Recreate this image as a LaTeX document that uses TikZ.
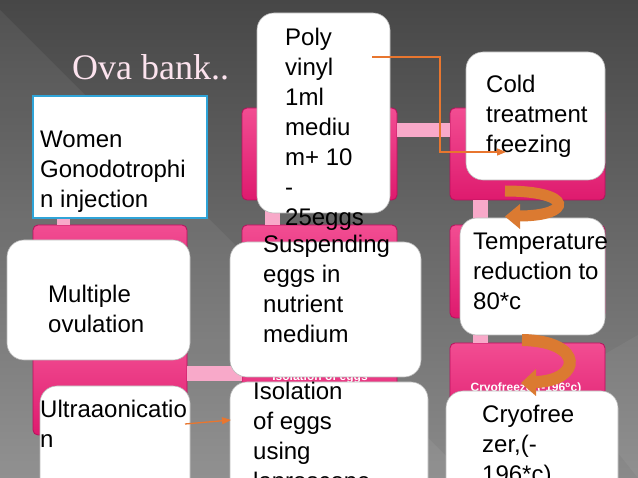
\documentclass[tikz,border=0pt]{standalone}
\usepackage{fontspec}
\setmainfont{Liberation Sans}
\newfontfamily\titlefont{Liberation Serif}
\usetikzlibrary{arrows.meta}
\definecolor{bgtop}{HTML}{474747}
\definecolor{bgbot}{HTML}{8A8A8A}
\definecolor{pinkA}{HTML}{F24D92}
\definecolor{pinkB}{HTML}{DE1A6E}
\definecolor{pinkE}{HTML}{B80F5C}
\definecolor{pinkL}{HTML}{F8A9C9}
\definecolor{orA}{HTML}{E8762F}
\definecolor{orB}{HTML}{DB7A31}
\definecolor{blueB}{HTML}{2FA4D8}
\definecolor{titlec}{HTML}{FCE3EE}
\newcommand{\boxtext}[1]{\parbox[t]{220pt}{\raggedright\fontsize{24}{30}\selectfont #1}}
\begin{document}
\begin{tikzpicture}[x=1pt,y=-1pt,
  pinkbox/.style={draw=pinkE, line width=0.8pt, rounded corners=5pt, top color=pinkA, bottom color=pinkB},
  linkbar/.style={fill=pinkL, draw=none},
  whitebox/.style={draw=gray!55, line width=0.6pt, fill=white, rounded corners=17pt},
  bluebox/.style={draw=blueB, line width=1.6pt, fill=white},
  boxlabel/.style={anchor=base west, inner sep=0pt, text=black},
  pinklabel/.style={anchor=base, inner sep=0pt, text=white, font=\fontsize{12}{14}\selectfont\bfseries},
  thinarrow/.style={draw=orA, line width=1.3pt, -{Triangle[length=9pt,width=7pt]}},
  bentband/.style={draw=orB, line width=11pt},
  benthead/.style={fill=orB, draw=none}
]
\clip (0,0) rectangle (638,478);
% background
\shade[top color=bgtop, bottom color=bgbot] (0,0) rectangle (638,478);
\fill[white, opacity=0.06] (0,10) -- (468,478) -- (0,478) -- cycle;
\fill[white, opacity=0.05] (638,335) -- (560,380) -- (638,478) -- cycle;

% title
\node[anchor=base west, inner sep=0pt, text=titlec, font=\titlefont\fontsize{36}{40}\selectfont] (title) at (72,80) {Ova bank..};

% pink process boxes
\path[pinkbox] (33,108) rectangle (187,200) coordinate (p11);
\path[pinkbox] (33,225) rectangle (187,318);
\path[pinkbox] (33,343) rectangle (187,435);
\path[pinkbox] (242,108) rectangle (397,200);
\path[pinkbox] (242,225) rectangle (397,318);
\path[pinkbox] (242,343) rectangle (397,435);
\path[pinkbox] (450,108) rectangle (605,200);
\path[pinkbox] (450,225) rectangle (605,318);
\path[pinkbox] (450,343) rectangle (605,435);
% link bars
\path[linkbar] (57,200) rectangle (70,225);
\path[linkbar] (187,366) rectangle (242,381);
\path[linkbar] (265,200) rectangle (280,225);
\path[linkbar] (397,123) rectangle (450,137);
\path[linkbar] (473,200) rectangle (488,225);
\path[linkbar] (473,318) rectangle (488,343);
% pink box labels
\node[pinklabel] (iso2) at (320,381) {Isolation of eggs};
\node[pinklabel] (cryo2) at (526,392) {Cryofreezer(-196\textsuperscript{o}c)};

% white boxes
\path[bluebox] (33,96) rectangle (207,218);
\node[boxlabel] (women) at (40,148) {\boxtext{Women\\Gonodotrophi\\n injection}};

\path[whitebox] (257,13) rectangle (390,213);
\node[boxlabel] (poly) at (285,46) {\boxtext{Poly\\vinyl\\1ml\\mediu\\m+ 10\\-\\25eggs}};

\path[whitebox] (466,52) rectangle (605,180);
\node[boxlabel] (cold) at (486,93) {\boxtext{Cold\\treatment\\freezing}};

\path[whitebox] (7,240) rectangle (190,360);
\node[boxlabel] (multi) at (48,303) {\boxtext{Multiple\\ovulation}};

\path[whitebox] (230,242) rectangle (421,377);
\node[boxlabel] (susp) at (263,253) {\boxtext{Suspending\\eggs in\\nutrient\\medium}};

\path[whitebox] (460,218) rectangle (605,335);
\node[boxlabel] (temp) at (473,250) {\boxtext{Temperature\\reduction to\\80*c}};

\path[whitebox] (40,386) rectangle (190,495);
\node[boxlabel] (ultra) at (40,418) {\boxtext{Ultraaonicatio\\n}};

\path[whitebox] (230,382) rectangle (428,495);
\node[boxlabel] (isol) at (253,400) {\boxtext{Isolation\\of eggs\\using\\laproscope}};

\path[whitebox] (446,391) rectangle (618,495);
\node[boxlabel] (cryo) at (482,423) {\boxtext{Cryofree\\zer,(-\\196*c)}};

% connectors
\coordinate (polyout) at (372,57);
\coordinate (coldin) at (506,152);
\draw[thinarrow] (polyout) -- (440,57) |- (coldin);
\coordinate (ultraout) at (185,424);
\coordinate (isolin) at (231,420);
\draw[thinarrow] (ultraout) -- (isolin);

% bent block arrows
\coordinate (b1s) at (505,191);
\coordinate (b1e) at (519,216);
\draw[bentband] (b1s) .. controls (575,191) and (573,216) .. (b1e);
\fill[benthead] (520,204) -- (505,216.5) -- (520,229) -- cycle;

\coordinate (b2s) at (522,340);
\coordinate (b2e) at (535,382);
\draw[bentband, line width=12pt] (b2s) .. controls (585,341) and (582,381) .. (b2e);
\fill[benthead] (536,369) -- (521,383) -- (536,396) -- cycle;
\end{tikzpicture}
\end{document}
